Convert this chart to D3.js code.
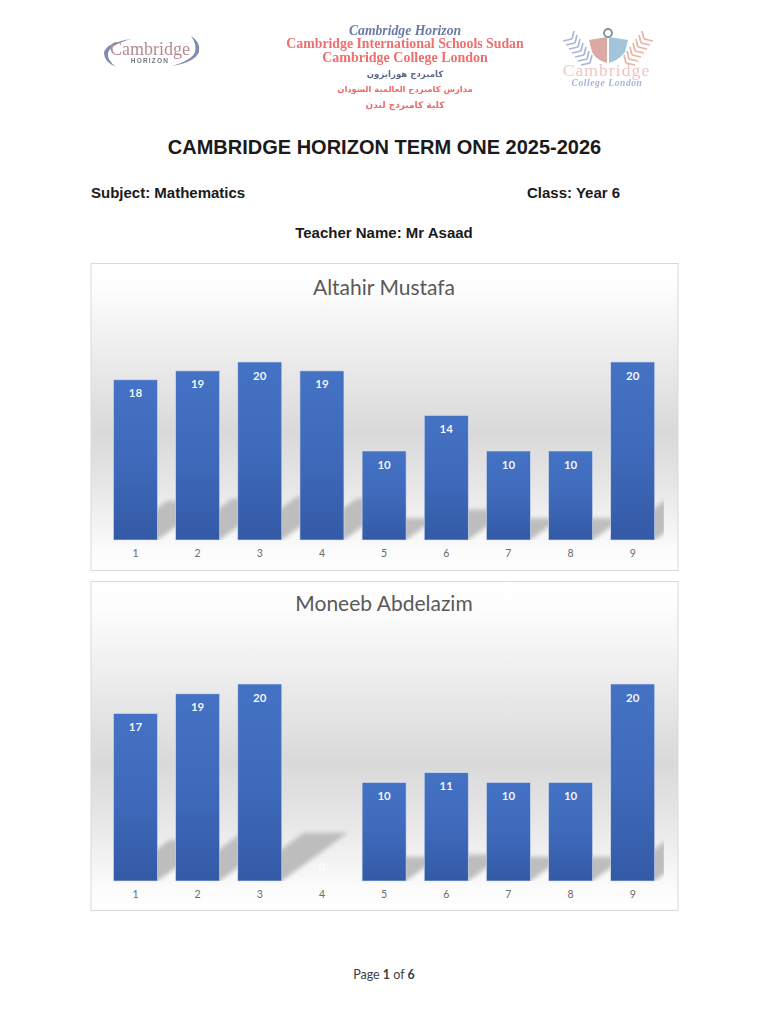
<!DOCTYPE html>
<html>
<head>
<meta charset="utf-8">
<script src="https://cdnjs.cloudflare.com/ajax/libs/d3/7.8.5/d3.min.js"></script>
<style>
html,body{margin:0;padding:0;background:#fff;}
svg{display:block;}
</style>
</head>
<body>
<div id="chart"></div>
<script>
const categories = ["1","2","3","4","5","6","7","8","9"];
const altahirScores = [18,19,20,19,10,14,10,10,20];
const moneebScores = [17,19,20,0,10,11,10,10,20];
const chartNames = ["Altahir Mustafa","Moneeb Abdelazim"];
const reportTitle = "CAMBRIDGE HORIZON TERM ONE 2025-2026";
const subjectText = "Subject: Mathematics";
const classText = "Class: Year 6";
const teacherText = "Teacher Name: Mr Asaad";
const letterheadLines = ["Cambridge Horizon","Cambridge International Schools Sudan","Cambridge College London","كامبردج هورايزون","مدارس كامبردج العالمية السودان","كلية كامبردج لندن"];

const W = 768, H = 1024;
const svg = d3.select("#chart").append("svg").attr("width",W).attr("height",H);
const defs = svg.append("defs");

const bg = defs.append("linearGradient").attr("id","panelBg").attr("x1",0).attr("y1",0).attr("x2",0).attr("y2",1);
[[0,"#ffffff"],[0.08,"#fdfdfd"],[0.55,"#d9d9d9"],[0.72,"#e6e6e6"],[0.93,"#fbfbfb"],[1,"#ffffff"]].forEach(s=>bg.append("stop").attr("offset",s[0]).attr("stop-color",s[1]));
const barG = defs.append("linearGradient").attr("id","barFill").attr("x1",0).attr("y1",0).attr("x2",0).attr("y2",1);
[[0,"#4472c4"],[0.5,"#3f6abb"],[1,"#335aa6"]].forEach(s=>barG.append("stop").attr("offset",s[0]).attr("stop-color",s[1]));
defs.append("filter").attr("id","shadowBlur").attr("x","-20%").attr("y","-20%").attr("width","140%").attr("height","140%")
  .append("feGaussianBlur").attr("stdDeviation",2);
defs.append("filter").attr("id","soft").attr("x","-5%").attr("y","-5%").attr("width","110%").attr("height","110%")
  .append("feGaussianBlur").attr("stdDeviation",0.5);

const serif = "'Liberation Serif',serif", sans = "'Liberation Sans',Arial,sans-serif", calibri = "Lato,'Open Sans',sans-serif";

/* ---------- letterhead ---------- */
const head = svg.append("g").attr("filter","url(#soft)");
const headStyles = [
 {y:35,size:13.7,fill:"#6b7aa3",style:"italic",weight:700},
 {y:48,size:13.8,fill:"#f26d6d",style:"normal",weight:700},
 {y:62,size:14,fill:"#f26d6d",style:"normal",weight:700},
 {y:77,size:8.6,fill:"#5d6788",style:"normal",weight:700},
 {y:92,size:8.4,fill:"#ee6a6a",style:"normal",weight:700},
 {y:108,size:9,fill:"#ee6a6a",style:"normal",weight:700}];
head.selectAll("text.lh").data(letterheadLines).join("text").attr("class","lh")
  .attr("x",405).attr("y",(d,i)=>headStyles[i].y).attr("text-anchor","middle")
  .attr("font-family",(d,i)=>i<3?serif:"'DejaVu Sans',sans-serif")
  .attr("font-size",(d,i)=>headStyles[i].size).attr("font-style",(d,i)=>headStyles[i].style)
  .attr("font-weight",(d,i)=>headStyles[i].weight).attr("fill",(d,i)=>headStyles[i].fill).text(d=>d);

/* left logo */
const ll = head.append("g");
ll.append("path").attr("d","M131 39 Q105 43 104 53 Q104 62 116 67 Q107 60 108 53 Q110 45 131 39Z").attr("fill","#7f8bb0");
ll.append("path").attr("d","M191 36 Q201 42 199 52 Q195 62 172 66 Q192 60 195 52 Q197 44 191 36Z").attr("fill","#7f8bb0");
ll.append("text").attr("x",150).attr("y",55).attr("text-anchor","middle").attr("font-family",serif).attr("font-size",18).attr("fill","#b58a90").text("Cambridge");
ll.append("text").attr("x",150).attr("y",63).attr("text-anchor","middle").attr("font-family",sans).attr("font-weight",700).attr("font-size",6.5).attr("letter-spacing",1.2).attr("fill","#77777f").text("HORIZON");

/* right logo */
const rl = head.append("g");
rl.append("path").attr("d","M589 40 L607 37 L607 63 Q596 60 592 52Z").attr("fill","#dba9a3");
rl.append("path").attr("d","M609 37 L628 40 L625 52 Q619 60 609 63Z").attr("fill","#a4c4dc");
rl.append("circle").attr("cx",608).attr("cy",33).attr("r",4).attr("fill","none").attr("stroke","#7c8fa0").attr("stroke-width",1.8);
[0,1,2,3,4,5,6].forEach(k=>{
  const px = 590-k*3, py = 63-k*4;
  rl.append("line").attr("x1",px).attr("y1",py).attr("x2",px-9).attr("y2",py+2).attr("stroke","#aab6d6").attr("stroke-width",1.7);
  rl.append("line").attr("x1",px).attr("y1",py).attr("x2",px+2).attr("y2",py-8).attr("stroke","#aab6d6").attr("stroke-width",1.7);
  const qx = 626+k*3;
  rl.append("line").attr("x1",qx).attr("y1",py).attr("x2",qx+9).attr("y2",py+2).attr("stroke","#e7b3a8").attr("stroke-width",1.7);
  rl.append("line").attr("x1",qx).attr("y1",py).attr("x2",qx-2).attr("y2",py-8).attr("stroke","#e7b3a8").attr("stroke-width",1.7);
});
rl.append("text").attr("x",606.5).attr("y",76).attr("text-anchor","middle").attr("font-family",serif).attr("font-size",17.5).attr("letter-spacing",1.1).attr("fill","#f0c4c0").text("Cambridge");
rl.append("text").attr("x",607).attr("y",86).attr("text-anchor","middle").attr("font-family",serif).attr("font-style","italic").attr("font-weight",700).attr("font-size",9.5).attr("letter-spacing",0.6).attr("fill","#a7b2d6").text("College London");

/* ---------- headings ---------- */
const heading = (t,x,y,size,anchor)=>svg.append("text").attr("x",x).attr("y",y).attr("text-anchor",anchor||"start")
  .attr("font-family",sans).attr("font-weight",700).attr("font-size",size).attr("fill","#1a1a1a").text(t);
heading(reportTitle,384.5,154,20,"middle");
heading(subjectText,91,198,15);
heading(classText,527,198,15);
heading(teacherText,384,238,15,"middle");

/* ---------- charts ---------- */
const x = d3.scaleBand().domain(categories).range([104.4,663.8]).paddingInner(0.292).paddingOuter(0.146);

function drawChart(name, values, frame, idx){
  const g = svg.append("g");
  const y = d3.scaleLinear().domain([0,20]).range([frame.base,frame.top20]);
  g.append("rect").attr("x",frame.x+.5).attr("y",frame.y+.5).attr("width",frame.w).attr("height",frame.h)
    .attr("fill","url(#panelBg)").attr("stroke","#d9d9d9").attr("stroke-width",1);
  g.append("text").attr("x",frame.x+frame.w/2).attr("y",frame.titleY).attr("text-anchor","middle")
    .attr("font-family",calibri).attr("font-size",21).attr("fill","#595959").text(name);

  const clipId = "plotClip"+idx;
  defs.append("clipPath").attr("id",clipId).append("rect")
    .attr("x",x.range()[0]).attr("y",frame.y).attr("width",x.range()[1]-x.range()[0]).attr("height",frame.base-frame.y);
  const rows = categories.map((c,i)=>({c,v:values[i]}));
  const shadowPath = d=>{
    const h = y(0)-y(d.v), dx = h*0.335, dy = h*0.245, l = x(d.c), r = l+x.bandwidth();
    return d3.line()([[l,y(0)],[r,y(0)],[r+dx,y(0)-dy],[l+dx,y(0)-dy]])+"Z";
  };
  g.append("g").attr("clip-path",`url(#${clipId})`).append("g").attr("filter","url(#shadowBlur)")
    .selectAll("path").data(rows.filter(d=>d.v>0)).join("path").attr("d",shadowPath).attr("fill","#bdbdbd");

  g.append("g").selectAll("rect").data(rows.filter(d=>d.v>0)).join("rect")
    .attr("x",d=>x(d.c)).attr("y",d=>y(d.v)).attr("width",x.bandwidth()).attr("height",d=>y(0)-y(d.v))
    .attr("fill","url(#barFill)").attr("stroke","#d5deee").attr("stroke-width",0.6);

  g.append("g").selectAll("text").data(rows).join("text")
    .attr("x",d=>x(d.c)+x.bandwidth()/2).attr("y",d=>y(d.v)+(d.v>0?17.5:-10))
    .attr("text-anchor","middle").attr("font-family",calibri).attr("font-weight",700).attr("font-size",11.5)
    .attr("fill","#fff").attr("fill-opacity",d=>d.v>0?0.95:0.8).text(d=>d.v);

  const axis = g.append("g").attr("transform",`translate(0,${frame.base})`)
    .call(d3.axisBottom(x).tickSize(0).tickPadding(10));
  axis.select(".domain").remove();
  axis.selectAll("text").attr("font-family",calibri).attr("font-size",10.5).attr("fill","#6b6b6b");
}
drawChart(chartNames[0],altahirScores,{x:90.5,y:263,w:587,h:307,base:540,top20:362,titleY:295},0);
drawChart(chartNames[1],moneebScores,{x:90.5,y:581,w:587,h:329,base:881,top20:684,titleY:611},1);

/* ---------- footer ---------- */
const foot = svg.append("text").attr("x",384).attr("y",979).attr("text-anchor","middle")
  .attr("font-family",calibri).attr("font-size",12.5).attr("fill","#404040");
foot.append("tspan").text("Page ");
foot.append("tspan").attr("font-weight",700).text("1");
foot.append("tspan").text(" of ");
foot.append("tspan").attr("font-weight",700).text("6");
</script>
</body>
</html>
